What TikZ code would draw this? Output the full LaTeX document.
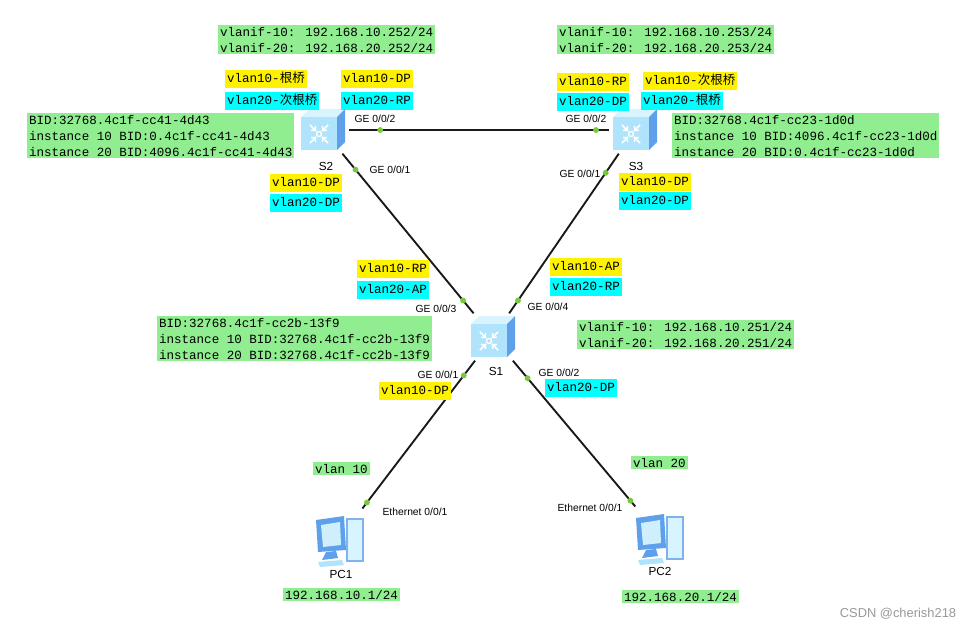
\documentclass[tikz,border=0pt]{standalone}
\usepackage{fontspec}
\setmainfont{Liberation Sans}
\newfontfamily\monof{Liberation Mono}
\newfontfamily\cjk{Noto Sans CJK SC}
\usetikzlibrary{positioning,calc}
\definecolor{lgreen}{RGB}{144,238,144}
\definecolor{aqua}{RGB}{0,255,255}
\definecolor{swfront}{RGB}{175,228,252}
\definecolor{swtop}{RGB}{215,244,255}
\definecolor{swside}{RGB}{95,160,235}
\definecolor{dotg}{RGB}{120,200,60}
\tikzset{
  lbl/.style={font=\monof\fontsize{10.7}{13.6}\selectfont, inner sep=1.6pt, anchor=north west, align=left},
  gbox/.style={lbl, fill=lgreen},
  ybox/.style={lbl, fill=yellow, text height=9pt, text depth=3pt},
  cbox/.style={lbl, fill=aqua, text height=9pt, text depth=3pt},
  port/.style={font=\fontsize{8.8}{10}\selectfont, inner sep=0pt},
  dev/.style={font=\fontsize{10}{11}\selectfont, inner sep=0pt},
  sw/.style={minimum width=44, minimum height=40, inner sep=0pt},
  pc/.style={minimum width=50, minimum height=50, inner sep=0pt},
  dot/.style={circle, fill=dotg, minimum size=5, inner sep=0pt},
  link/.style={line width=1.6pt, black!90},
  swicon/.pic={
    \fill[swtop] (-22,-13) -- (-14,-21) -- (22,-21) -- (14,-13) -- cycle;
    \fill[swside] (14,-13) -- (22,-21) -- (22,12) -- (14,20) -- cycle;
    \fill[swfront] (-22,-13) rectangle (14,20);
    \draw[white, line width=1.2pt] (-4,4) circle (2.5);
    \foreach \a in {45,135,225,315}
      \draw[white, line width=1.3pt, rotate around={\a:(-4,4)}] (-4+4,4) -- (-4+13,4)
        (-4+5,4) -- (-4+8,4-3) (-4+5,4) -- (-4+8,4+3);
  },
  pcicon/.pic={
    \fill[swside!80] (6,-20) rectangle (24,24);
    \fill[swtop] (8,-18) rectangle (22,22);
    \fill[swside] (-24,-18) -- (4,-22) -- (6,12) -- (-22,14) -- cycle;
    \fill[swfront!60] (-19,-13) -- (0,-16) -- (1,7) -- (-17,9) -- cycle;
    \fill[swside] (-14,14) -- (-4,13) -- (-2,20) -- (-18,22) -- cycle;
    \fill[swfront] (-22,24) -- (2,22) -- (4,27) -- (-20,29) -- cycle;
  }
}
\begin{document}
\begin{tikzpicture}[x=0.03cm,y=-0.03cm]
\useasboundingbox[fill=white] (0,0) rectangle (969,632);
% devices
\node[sw] (S2) at (323,130) {};
\node[sw] (S3) at (635,130) {};
\node[sw] (S1) at (493,337) {};
\node[pc] (PC1) at (340,538) {};
\node[pc] (PC2) at (660,536) {};
% links
\draw[link] (S2) -- (S3) node[dot,pos=0.12]{} node[dot,pos=0.95]{};
\draw[link] (S2) -- (S1) node[dot,pos=0.1]{} node[dot,pos=0.92]{};
\draw[link] (S3) -- (S1) node[dot,pos=0.12]{} node[dot,pos=0.92]{};
\draw[link] (S1) -- (PC1) node[dot,pos=0.1]{} node[dot,pos=0.96]{};
\draw[link] (S1) -- (PC2) node[dot,pos=0.12]{} node[dot,pos=0.96]{};
\pic at (S2) {swicon};
\pic at (S3) {swicon};
\pic at (S1) {swicon};
\pic at (PC1) {pcicon};
\pic at (PC2) {pcicon};
\node[dev] at (326,166) {S2};
\node[dev] at (636,166) {S3};
\node[dev] at (496,371) {S1};
\node[dev] at (341,574) {PC1};
\node[dev] at (660,571) {PC2};
% port labels
\node[port] at (375,119) {GE 0/0/2};
\node[port] at (586,119) {GE 0/0/2};
\node[port] at (390,170) {GE 0/0/1};
\node[port] at (580,174) {GE 0/0/1};
\node[port] at (436,309) {GE 0/0/3};
\node[port] at (548,307) {GE 0/0/4};
\node[port] at (438,375) {GE 0/0/1};
\node[port] at (559,373) {GE 0/0/2};
\node[port] at (415,512) {Ethernet 0/0/1};
\node[port] at (590,508) {Ethernet 0/0/1};
% S2 info
\node[gbox] (ifS2) at (218,25) {vlanif-10: 192.168.10.252/24\\vlanif-20: 192.168.20.252/24};
\node[ybox] (r2a) at (225,70) {vlan10-{\cjk 根桥}};
\node[cbox] (r2b) at (225,92) {vlan20-{\cjk 次根桥}};
\node[ybox] (p2a) at (341,70) {vlan10-DP};
\node[cbox] (p2b) at (341,92) {vlan20-RP};
\node[gbox] (bid2) at (27,113) {BID:32768.4c1f-cc41-4d43\\instance 10 BID:0.4c1f-cc41-4d43\\instance 20 BID:4096.4c1f-cc41-4d43};
\node[ybox] (q2a) at (270,174) {vlan10-DP};
\node[cbox] (q2b) at (270,194) {vlan20-DP};
% S3 info
\node[gbox] (ifS3) at (557,25) {vlanif-10: 192.168.10.253/24\\vlanif-20: 192.168.20.253/24};
\node[ybox] (p3a) at (557,73) {vlan10-RP};
\node[cbox] (p3b) at (557,93) {vlan20-DP};
\node[ybox] (r3a) at (643,72) {vlan10-{\cjk 次根桥}};
\node[cbox] (r3b) at (641,92) {vlan20-{\cjk 根桥}};
\node[gbox] (bid3) at (672,113) {BID:32768.4c1f-cc23-1d0d\\instance 10 BID:4096.4c1f-cc23-1d0d\\instance 20 BID:0.4c1f-cc23-1d0d};
\node[ybox] (q3a) at (619,173) {vlan10-DP};
\node[cbox] (q3b) at (619,192) {vlan20-DP};
% S1 info
\node[ybox] (s1a) at (357,260) {vlan10-RP};
\node[cbox] (s1b) at (357,281) {vlan20-AP};
\node[ybox] (s1c) at (550,258) {vlan10-AP};
\node[cbox] (s1d) at (550,278) {vlan20-RP};
\node[gbox] (bid1) at (157,316) {BID:32768.4c1f-cc2b-13f9\\instance 10 BID:32768.4c1f-cc2b-13f9\\instance 20 BID:32768.4c1f-cc2b-13f9};
\node[gbox] (ifS1) at (577,320) {vlanif-10: 192.168.10.251/24\\vlanif-20: 192.168.20.251/24};
\node[ybox] (s1e) at (379,382) {vlan10-DP};
\node[cbox] (s1f) at (545,379) {vlan20-DP};
% hosts
\node[gbox] (v10) at (313,462) {vlan 10};
\node[gbox] (v20) at (631,456) {vlan 20};
\node[gbox] (ip1) at (283,588) {192.168.10.1/24};
\node[gbox] (ip2) at (622,590) {192.168.20.1/24};
\node[font=\fontsize{11}{13}\selectfont, text=black!40] at (898,614) {CSDN @cherish218};
\end{tikzpicture}
\end{document}
